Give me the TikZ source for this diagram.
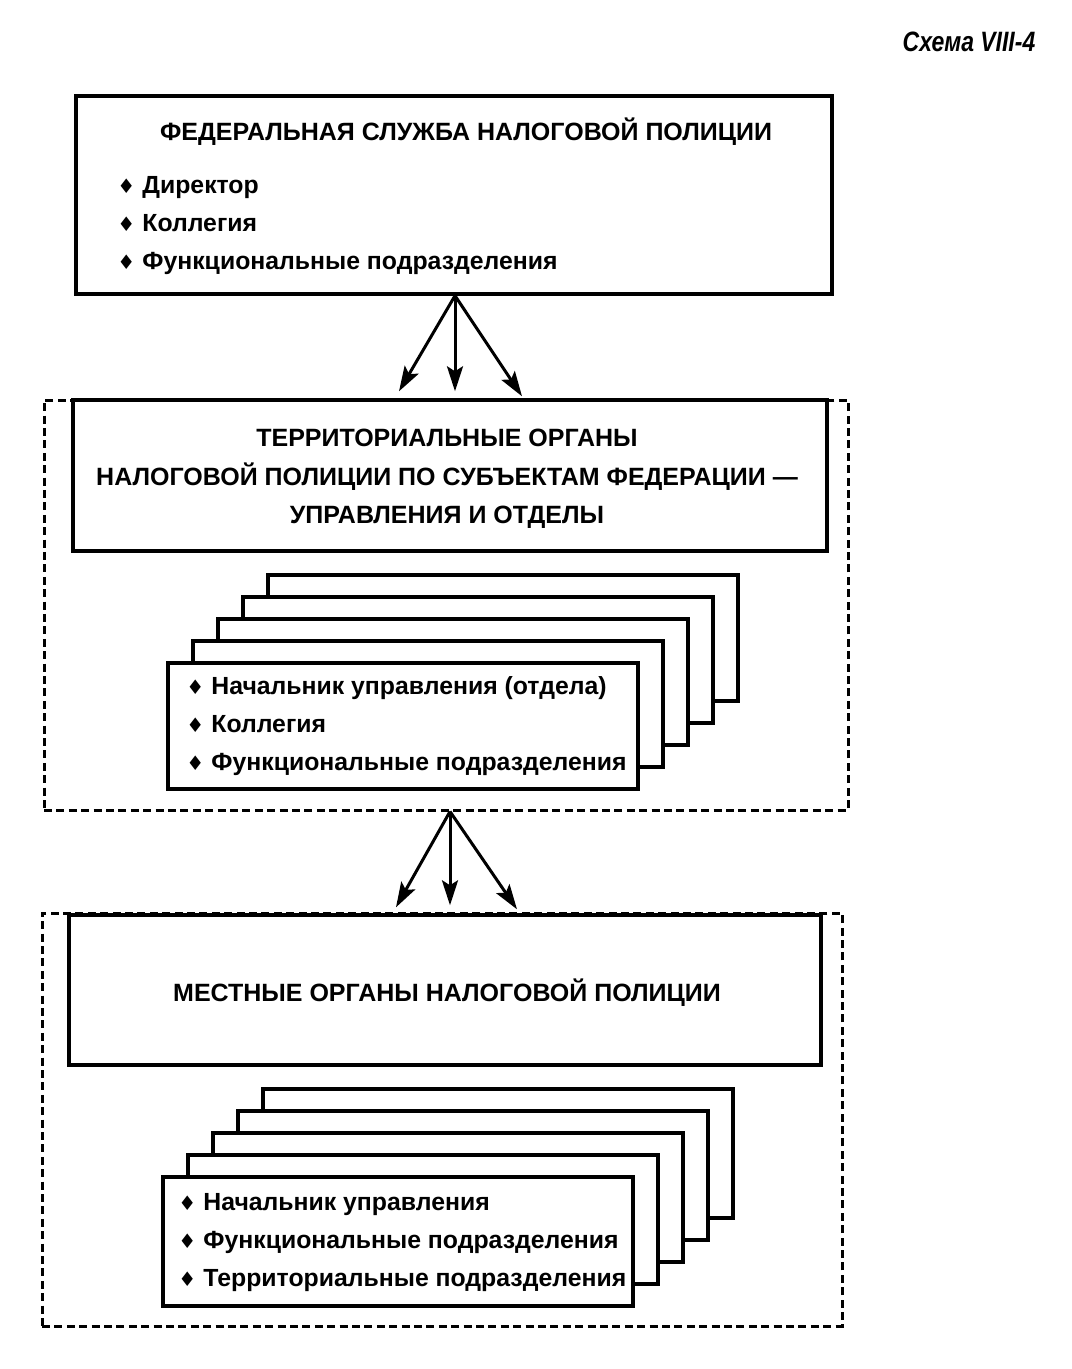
\documentclass[tikz,border=0pt]{standalone}
\usepackage{fontspec}
\setmainfont{Liberation Sans}
\newfontfamily\bulletfont{DejaVu Sans}
\newfontfamily\narrowfont{Liberation Sans}[FakeStretch=0.82]
\usetikzlibrary{arrows.meta, positioning, calc}

% list item with a diamond bullet
\newcommand{\itm}[1]{\makebox[12.5pt][l]{\bulletfont\fontsize{10}{10}\selectfont ♦}#1}

\begin{document}
\begin{tikzpicture}[
  x=0.5pt, y=-0.5pt,
  framebox/.style={rectangle, draw=black, line width=1.7pt, fill=white, inner sep=0pt},
  groupbox/.style={rectangle, draw=black, line width=1.5pt, dash pattern=on 4pt off 2.2pt, inner sep=0pt},
  headtext/.style={font=\fontsize{12.5}{19.2}\selectfont\bfseries, align=center},
  listtext/.style={font=\fontsize{12.4}{19}\selectfont\bfseries, align=left, anchor=west, inner sep=0pt},
  fan/.style={-{Stealth[length=12.5pt, width=8pt, inset=2.5pt]}, line width=1.5pt}
]
  \useasboundingbox (0,0) rectangle (1071,1369);

  % Scheme number (top right)
  \node[font=\narrowfont\fontsize{14}{16}\selectfont\bfseries\itshape] (schemeno) at (969,42) {Схема VIII-4};

  % Federal service
  \node[framebox, minimum width=378pt, minimum height=99pt] (fed) at (454,195) {};
  \node[headtext] (fedtitle) at (466,132) {ФЕДЕРАЛЬНАЯ СЛУЖБА НАЛОГОВОЙ ПОЛИЦИИ};
  \node[listtext] (fedlist) at (117,226) {\itm{Директор}\\\itm{Коллегия}\\\itm{Функциональные подразделения}};

  % Territorial bodies - dashed group first, then boxes on top
  \node[groupbox, minimum width=402pt, minimum height=205pt] (terrgroup) at (446,605) {};
  \node[framebox, minimum width=377pt, minimum height=75.5pt] (terr) at (450,475.5) {};
  \node[headtext] (terrtitle) at (447,479)
    {ТЕРРИТОРИАЛЬНЫЕ ОРГАНЫ\\НАЛОГОВОЙ ПОЛИЦИИ ПО СУБЪЕКТАМ ФЕДЕРАЦИИ —\\УПРАВЛЕНИЯ И ОТДЕЛЫ};
  \foreach \i in {4,3,2,1}
    \node[framebox, minimum width=235pt, minimum height=63pt] (terrcopy\i) at ($(403,726)+(25*\i,-22*\i)$) {};
  \node[framebox, minimum width=235pt, minimum height=63pt] (terrfront) at (403,726) {};
  \node[listtext] (terrlist) at (186,726) {\itm{Начальник управления (отдела)}\\\itm{Коллегия}\\\itm{Функциональные подразделения}};

  % Local bodies
  \node[groupbox, minimum width=400pt, minimum height=206.5pt] (localgroup) at (442,1119.5) {};
  \node[framebox, minimum width=376pt, minimum height=75pt] (local) at (445,990) {};
  \node[headtext] (localtitle) at (447,993) {МЕСТНЫЕ ОРГАНЫ НАЛОГОВОЙ ПОЛИЦИИ};
  \foreach \i in {4,3,2,1}
    \node[framebox, minimum width=235pt, minimum height=64.5pt] (localcopy\i) at ($(398,1241.5)+(25*\i,-22*\i)$) {};
  \node[framebox, minimum width=235pt, minimum height=64.5pt] (localfront) at (398,1241.5) {};
  \node[listtext] (locallist) at (178,1243) {\itm{Начальник управления}\\\itm{Функциональные подразделения}\\\itm{Территориальные подразделения}};

  % Arrows: federal -> territorial
  \draw[fan] ($(fed.south)+(1,0)$) -- ($(terr.north)+(-51,-7)$);
  \draw[fan] ($(fed.south)+(1,0)$) -- ($(terr.north)+(5,-7)$);
  \draw[fan] ($(fed.south)+(1,0)$) -- ($(terr.north)+(72,-2)$);

  % Arrows: territorial -> local
  \draw[fan] ($(terrgroup.south)+(4,0)$) -- ($(local.north)+(-49,-6)$);
  \draw[fan] ($(terrgroup.south)+(4,0)$) -- ($(local.north)+(5,-8)$);
  \draw[fan] ($(terrgroup.south)+(4,0)$) -- ($(local.north)+(72,-4)$);
\end{tikzpicture}
\end{document}
